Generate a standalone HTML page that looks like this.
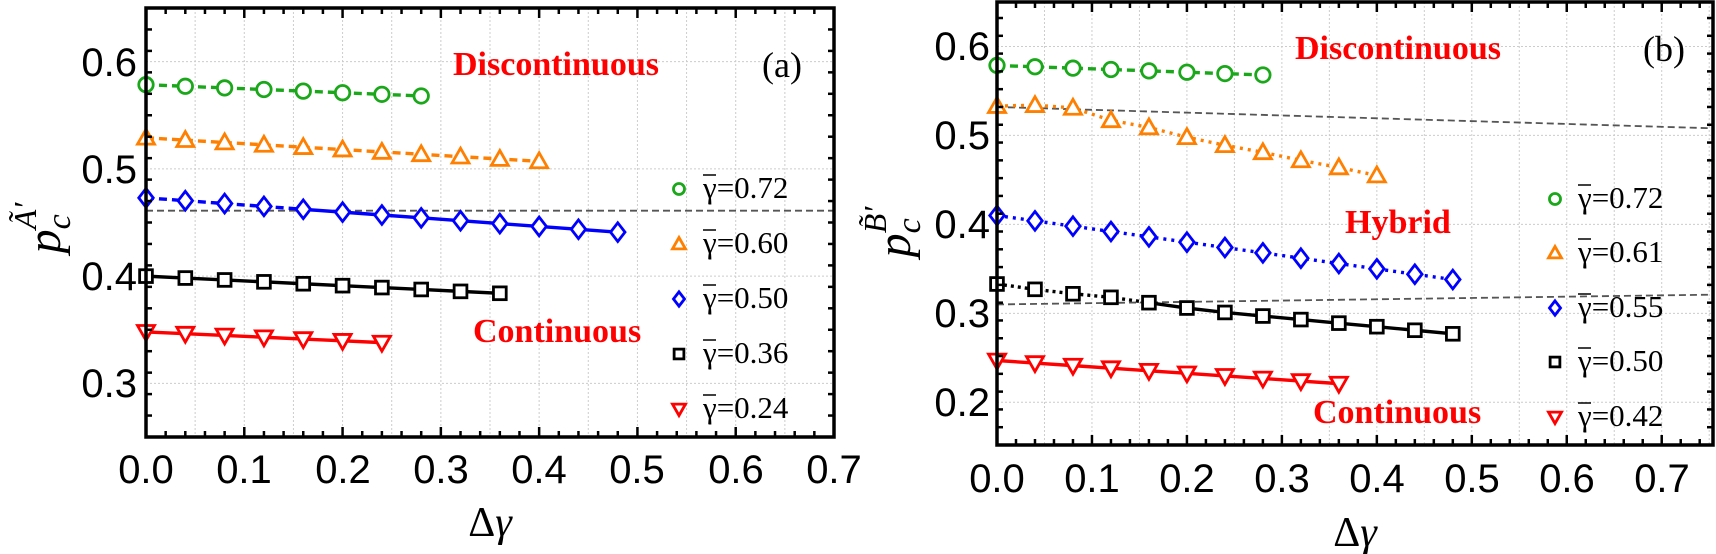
<!DOCTYPE html>
<html><head><meta charset="utf-8">
<style>
html,body{margin:0;padding:0;background:#fff;}
svg{display:block;}
.tk{font-family:"Liberation Sans",sans-serif;font-size:40px;fill:#000;}
.lg{font-family:"Liberation Serif",serif;font-size:31px;fill:#000;}
.rd{font-family:"Liberation Serif",serif;font-size:34px;font-weight:bold;fill:#f00;}
.ax{font-family:"Liberation Serif",serif;font-size:42px;fill:#000;}
</style></head>
<body>
<svg id="s" width="1716" height="554" viewBox="0 0 1716 554" xmlns="http://www.w3.org/2000/svg">
<g id="plots"></g>
<g class="tk" text-anchor="end">
<text x="137" y="76">0.6</text><text x="137" y="183">0.5</text><text x="137" y="290">0.4</text><text x="137" y="397">0.3</text>
</g>
<g class="tk" text-anchor="middle">
<text x="146" y="483">0.0</text><text x="244" y="483">0.1</text><text x="343" y="483">0.2</text><text x="441" y="483">0.3</text><text x="539" y="483">0.4</text><text x="637" y="483">0.5</text><text x="736" y="483">0.6</text><text x="834" y="483">0.7</text>
</g>
<text class="ax" x="490" y="536" text-anchor="middle">Δ<tspan font-style="italic">γ</tspan></text>
<g transform="translate(60,228) rotate(-90)">
<text class="ax" text-anchor="middle" style="font-size:48px;font-style:italic">p<tspan style="font-size:34px" dy="10">c</tspan><tspan style="font-size:32px" dy="-34" dx="-15">Ã′</tspan></text>
</g>
<text class="rd" x="453" y="75">Discontinuous</text>
<text class="rd" x="473" y="342">Continuous</text>
<text class="lg" x="762" y="77" style="font-size:36px">(a)</text>
<g class="lg">
<text x="703" y="198">γ=0.72</text><text x="703" y="253">γ=0.60</text><text x="703" y="308">γ=0.50</text><text x="703" y="363">γ=0.36</text><text x="703" y="418">γ=0.24</text>
</g>
<g class="tk" text-anchor="end">
<text x="990" y="60">0.6</text><text x="990" y="149">0.5</text><text x="990" y="238">0.4</text><text x="990" y="327">0.3</text><text x="990" y="416">0.2</text>
</g>
<g class="tk" text-anchor="middle">
<text x="997" y="492">0.0</text><text x="1092" y="492">0.1</text><text x="1187" y="492">0.2</text><text x="1282" y="492">0.3</text><text x="1377" y="492">0.4</text><text x="1472" y="492">0.5</text><text x="1567" y="492">0.6</text><text x="1662" y="492">0.7</text>
</g>
<text class="ax" x="1355" y="546" text-anchor="middle">Δ<tspan font-style="italic">γ</tspan></text>
<g transform="translate(910,232) rotate(-90)">
<text class="ax" text-anchor="middle" style="font-size:48px;font-style:italic">p<tspan style="font-size:34px" dy="10">c</tspan><tspan style="font-size:32px" dy="-34" dx="-15">B̃′</tspan></text>
</g>
<text class="rd" x="1295" y="59">Discontinuous</text>
<text class="rd" x="1345" y="233">Hybrid</text>
<text class="rd" x="1313" y="423">Continuous</text>
<text class="lg" x="1643" y="61" style="font-size:36px">(b)</text>
<g class="lg">
<text x="1578" y="208">γ=0.72</text><text x="1578" y="262">γ=0.61</text><text x="1578" y="317">γ=0.55</text><text x="1578" y="371">γ=0.50</text><text x="1578" y="426">γ=0.42</text>
</g>
</svg>
<script>
const NS="http://www.w3.org/2000/svg";
const G=document.getElementById('plots');
function el(t,a){const e=document.createElementNS(NS,t);for(const k in a)e.setAttribute(k,a[k]);G.appendChild(e);return e;}
const C={g:'#1aa81a',o:'#ff8000',b:'#0000ff',k:'#000',r:'#ff0000'};
function marker(type,x,y,col,s){
 const sw=2.8;
 if(type=='c')el('circle',{cx:x,cy:y,r:s*0.85,fill:'#fff',stroke:col,'stroke-width':sw});
 else if(type=='t')el('polygon',{points:`${x},${y-s} ${x-s},${y+s*0.75} ${x+s},${y+s*0.75}`,fill:'#fff',stroke:col,'stroke-width':sw});
 else if(type=='v')el('polygon',{points:`${x},${y+s} ${x-s},${y-s*0.75} ${x+s},${y-s*0.75}`,fill:'#fff',stroke:col,'stroke-width':sw});
 else if(type=='d')el('polygon',{points:`${x},${y-s*1.1} ${x+s*0.85},${y} ${x},${y+s*1.1} ${x-s*0.85},${y}`,fill:'#fff',stroke:col,'stroke-width':sw});
 else if(type=='s')el('rect',{x:x-s*0.75,y:y-s*0.75,width:s*1.5,height:s*1.5,fill:'#fff',stroke:col,'stroke-width':sw});
}
function panel(P){
 const X=v=>P.x0+(v-P.xmin)/(P.xmax-P.xmin)*(P.x1-P.x0);
 const Y=v=>P.y1-(v-P.ymin)/(P.ymax-P.ymin)*(P.y1-P.y0);
 for(let v=0.05;v<P.xmax-0.001;v+=0.05)el('line',{x1:X(v),x2:X(v),y1:P.y0,y2:P.y1,stroke:'#ccc','stroke-width':1,'stroke-dasharray':'2,2'});
 P.yt.forEach(v=>el('line',{x1:P.x0,x2:P.x1,y1:Y(v),y2:Y(v),stroke:'#ccc','stroke-width':1,'stroke-dasharray':'2,2'}));
 P.ref.forEach(r=>el('line',{x1:X(0),x2:P.x1,y1:Y(r[0]),y2:Y(r[1]),stroke:'#555','stroke-width':1.8,'stroke-dasharray':'7,4'}));
 P.series.forEach(s=>{
  const pts=s.y.map((v,i)=>[X(i*0.04),Y(v)]);
  const split=s.split==null?pts.length-1:s.split;
  const dash=s.dash;
  if(split>0){el('polyline',{points:pts.slice(0,split+1).map(p=>p.join(',')).join(' '),fill:'none',stroke:C[s.c],'stroke-width':3.4,'stroke-dasharray':dash});}
  if(split<pts.length-1){el('polyline',{points:pts.slice(split).map(p=>p.join(',')).join(' '),fill:'none',stroke:C[s.c],'stroke-width':3.4});}
  pts.forEach(p=>marker(s.m,p[0],p[1],C[s.c],8.5));
 });
 for(let v=P.xmin;v<=P.xmax+1e-6;v+=0.02){const maj=Math.abs(Math.round(v*10)-v*10)<1e-6;const L=maj?10:6;
  el('line',{x1:X(v),x2:X(v),y1:P.y1,y2:P.y1-L,stroke:'#000','stroke-width':2.5});el('line',{x1:X(v),x2:X(v),y1:P.y0,y2:P.y0+L,stroke:'#000','stroke-width':2.5});}
 for(let v=P.ymin;v<=P.ymax+1e-6;v+=0.02){const maj=Math.abs(Math.round(v*10)-v*10)<1e-6;const L=maj?10:6;
  el('line',{y1:Y(v),y2:Y(v),x1:P.x0,x2:P.x0+L,stroke:'#000','stroke-width':2.5});el('line',{y1:Y(v),y2:Y(v),x1:P.x1,x2:P.x1-L,stroke:'#000','stroke-width':2.5});}
 el('rect',{x:P.x0,y:P.y0,width:P.x1-P.x0,height:P.y1-P.y0,fill:'none',stroke:'#000','stroke-width':3.5});
 P.leg.forEach((l,i)=>marker(l[0],P.lx,P.ly[i],C[l[1]],6.5));
}
function lin(a,b,n){const r=[];for(let i=0;i<n;i++)r.push(a+(b-a)*i/(n-1));return r;}
panel({x0:146,x1:834,y0:8,y1:437,xmin:0,xmax:0.7,ymin:0.25,ymax:0.65,yt:[0.3,0.4,0.5,0.6],
 ref:[[0.461,0.461]],
 series:[
  {c:'g',m:'c',y:lin(0.5785,0.568,8),dash:'8,5'},
  {c:'o',m:'t',y:lin(0.529,0.507,11),dash:'8,5'},
  {c:'b',m:'d',y:lin(0.473,0.441,13),dash:'8,5',split:4},
  {c:'k',m:'s',y:lin(0.400,0.384,10),split:0},
  {c:'r',m:'v',y:lin(0.348,0.338,7),split:0}],
 lx:679,ly:[189,244,299,354,409],leg:[['c','g'],['t','o'],['d','b'],['s','k'],['v','r']]});
panel({x0:997,x1:1713,y0:2,y1:445,xmin:0,xmax:0.754,ymin:0.152,ymax:0.65,yt:[0.2,0.3,0.4,0.5,0.6],
 ref:[[0.532,0.508],[0.310,0.321]],
 series:[
  {c:'g',m:'c',y:lin(0.5787,0.568,8),dash:'8,5'},
  {c:'o',m:'t',y:[0.533,0.534,0.531,0.517,0.509,0.498,0.489,0.481,0.472,0.464,0.455],dash:'3,5'},
  {c:'b',m:'d',y:lin(0.410,0.338,13),dash:'3,5'},
  {c:'k',m:'s',y:[0.333,0.327,0.322,0.318,0.312,0.306,0.301,0.297,0.293,0.289,0.285,0.281,0.277],dash:'3,4',split:4},
  {c:'r',m:'v',y:lin(0.247,0.221,10),split:0}],
 lx:1555,ly:[199,253,308,362,417],leg:[['c','g'],['t','o'],['d','b'],['s','k'],['v','r']]});
document.querySelectorAll('.lg text').forEach(t=>{if(t.textContent.startsWith('γ')){const b=t.getBBox();const l=document.createElementNS(NS,'line');l.setAttribute('x1',b.x+1);l.setAttribute('x2',b.x+14);l.setAttribute('y1',b.y+5);l.setAttribute('y2',b.y+5);l.setAttribute('stroke','#000');l.setAttribute('stroke-width','1.5');document.getElementById('s').appendChild(l);}});
</script>
</body></html>
